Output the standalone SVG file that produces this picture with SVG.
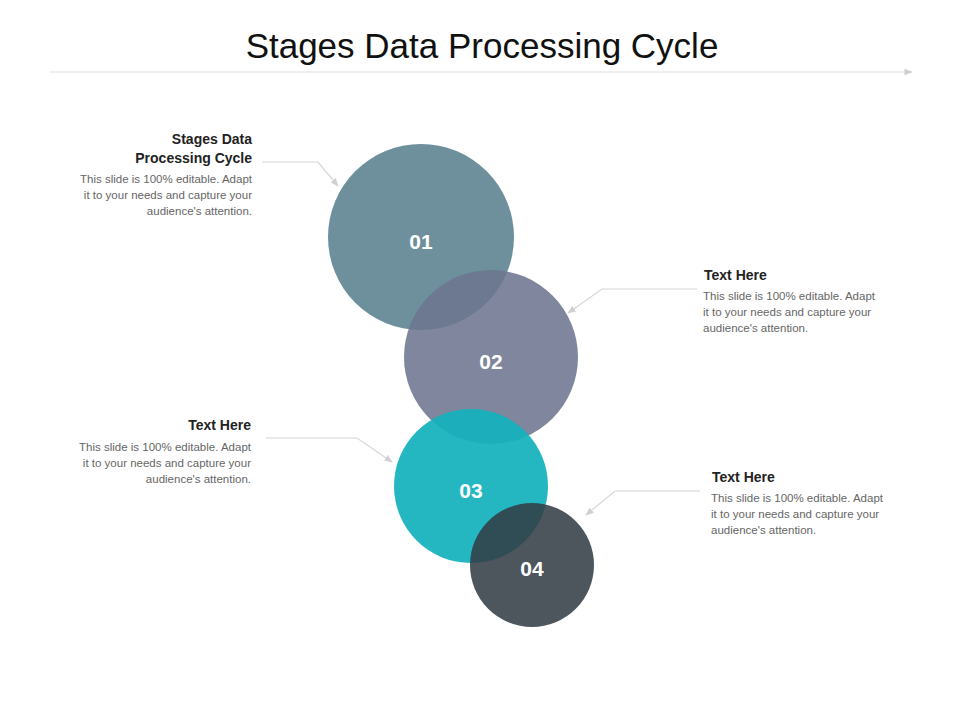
<svg xmlns="http://www.w3.org/2000/svg" width="960" height="720" viewBox="0 0 960 720">
<defs>
<marker id="a" viewBox="0 0 10 10" refX="9" refY="5" markerWidth="7" markerHeight="7" orient="auto"><path d="M0,1 L10,5 L0,9 z" fill="#d0d0d0"/></marker>
<style>
text{font-family:"Liberation Sans",Arial,sans-serif}
.h{font-size:14px;font-weight:bold;fill:#222}
.b{font-size:11.5px;fill:#666}
.n{font-size:21px;font-weight:bold;fill:#fff;text-anchor:middle}
.c{fill:none;stroke:#d6d6d6;stroke-width:1.2}
</style>
</defs>
<rect width="960" height="720" fill="#fff"/>
<text x="482" y="58" font-size="35" text-anchor="middle" fill="#111">Stages Data Processing Cycle</text>
<line x1="50" y1="72" x2="912" y2="72" stroke="#e0e0e0" stroke-width="1.2" marker-end="url(#a)"/>
<g id="n1"><circle cx="421" cy="237" r="93" fill="#6e909c"/><text class="n" x="421" y="249">01</text></g>
<g id="n2"><circle cx="491" cy="357" r="87" fill="#6d7590" opacity="0.88"/><text class="n" x="491" y="369">02</text></g>
<g id="n3"><circle cx="471" cy="486" r="77" fill="#14b2bc" opacity="0.93"/><text class="n" x="471" y="498">03</text></g>
<g id="n4"><circle cx="532" cy="565" r="62" fill="#323c45" opacity="0.87"/><text class="n" x="532" y="576">04</text></g>
<g id="connectors">
<polyline class="c" points="262,162 318,162 338,186" marker-end="url(#a)"/>
<polyline class="c" points="697,289 602,289 568,313" marker-end="url(#a)"/>
<polyline class="c" points="266,438 357,438 392,462" marker-end="url(#a)"/>
<polyline class="c" points="700,491 615,491 586,515" marker-end="url(#a)"/>
</g>
<g id="t1" text-anchor="end">
<text class="h" x="252" y="144">Stages Data</text>
<text class="h" x="252" y="163">Processing Cycle</text>
<text class="b" x="252" y="183">This slide is 100% editable. Adapt</text>
<text class="b" x="252" y="199">it to your needs and capture your</text>
<text class="b" x="252" y="215">audience's attention.</text>
</g>
<g id="t2">
<text class="h" x="704" y="280">Text Here</text>
<text class="b" x="703" y="300">This slide is 100% editable. Adapt</text>
<text class="b" x="703" y="316">it to your needs and capture your</text>
<text class="b" x="703" y="332">audience's attention.</text>
</g>
<g id="t3" text-anchor="end">
<text class="h" x="251" y="430">Text Here</text>
<text class="b" x="251" y="451">This slide is 100% editable. Adapt</text>
<text class="b" x="251" y="467">it to your needs and capture your</text>
<text class="b" x="251" y="483">audience's attention.</text>
</g>
<g id="t4">
<text class="h" x="712" y="482">Text Here</text>
<text class="b" x="711" y="502">This slide is 100% editable. Adapt</text>
<text class="b" x="711" y="518">it to your needs and capture your</text>
<text class="b" x="711" y="534">audience's attention.</text>
</g>
</svg>
